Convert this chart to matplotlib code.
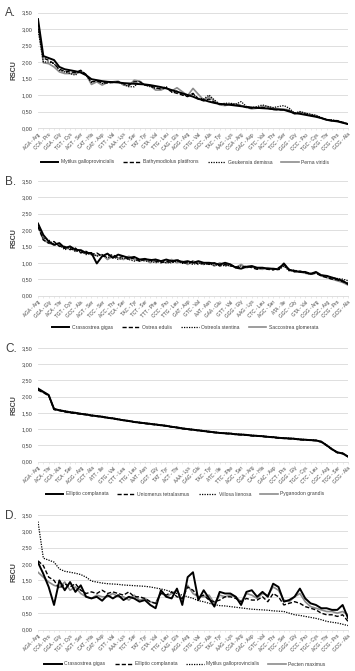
import numpy as np
import matplotlib
matplotlib.use("Agg")
import matplotlib.pyplot as plt

plt.rcParams["font.family"] = ["Liberation Sans", "DejaVu Sans"]

TXT = "#404040"
GRID = "#d9d9d9"
GREY = "#8c8c8c"

# visible (every other) codon labels of each panel, left to right
LABELS_A = ["AGA - Arg", "CCA - Pro", "GGA - Gly", "TGT - Cys", "AGT - Ser", "CAT - His",
            "GAT - Asp", "GTT - Val", "AAA - Lys", "TCT - Ser", "TAT - Tyr", "GTA - Val",
            "TTG - Leu", "CAG - Gln", "AGG - Arg", "GTG - Val", "GCC - Ala", "TAC - Tyr",
            "AAG - Lys", "CGA - Arg", "GAC - Asp", "GTC - Val", "ACC - Thr", "TCC - Ser",
            "GGG - Gly", "CCC - Pro", "TGC - Cys", "ACG - Thr", "CCG - Pro", "GCG - Ala"]
LABELS_B = ["AGA - Arg", "GGA - Gly", "ACA - Thr", "TGT - Cys", "GCC - Ala", "AGT - Ser",
            "TCC - Ser", "ACC - Thr", "TCA - Ser", "TAC - Tyr", "TCT - Ser", "TTT - Phe",
            "CCC - Pro", "TTG - Leu", "GAT - Asp", "GTC - Val", "AAT - Asn", "GAA - Glu",
            "GTT - Val", "GGG - Gly", "AAG - Lys", "CTC - Leu", "AGC - Ser", "ATA - Ile",
            "GGC - Gly", "GTA - Val", "CGG - Arg", "CGC - Arg", "CCG - Pro", "GCG - Ala"]
LABELS_C = ["AGA - Arg", "ACA - Thr", "GCA - Ala", "TCA - Ser", "AGG - Arg", "GCT - Ala",
            "ATT - Ile", "GTG - Val", "CTT - Leu", "TTG - Leu", "AAT - Asn", "GGT - Gly",
            "TAT - Tyr", "ACT - Thr", "AAA - Lys", "GAG - Glu", "TAC - Tyr", "ATC - Ile",
            "TTC - Phe", "AGC - Ser", "CGA - Arg", "CAC - His", "GAC - Asp", "CCT - Pro",
            "GGG - Gly", "TGC - Cys", "CTC - Leu", "CGC - Arg", "TCG - Ser", "GCG - Ala"]

# panel A
SP_A = ["Mytilus galloprovincialis", "Bathymodiolus platifrons", "Geukensia demissa", "Perna viridis"]
mytilus = [3.30, 2.18, 2.12, 2.06, 1.85, 1.78, 1.75, 1.72, 1.68, 1.60, 1.48, 1.45, 1.42, 1.40, 1.39,
           1.38, 1.36, 1.35, 1.34, 1.33, 1.32, 1.30, 1.27, 1.24, 1.20, 1.15, 1.10, 1.05, 1.00, 0.95,
           0.88, 0.85, 0.80, 0.76, 0.73, 0.72, 0.70, 0.68, 0.66, 0.64, 0.62, 0.61, 0.60, 0.59, 0.57,
           0.56, 0.55, 0.50, 0.45, 0.43, 0.40, 0.37, 0.34, 0.30, 0.25, 0.22, 0.20, 0.16, 0.12]
bathymodiolus = [3.20, 2.12, 2.05, 1.95, 1.78, 1.72, 1.70, 1.68, 1.75, 1.62, 1.40, 1.42, 1.38, 1.36,
                 1.38, 1.40, 1.35, 1.30, 1.40, 1.40, 1.30, 1.28, 1.22, 1.18, 1.22, 1.10, 1.05, 1.00,
                 0.95, 1.05, 0.88, 0.82, 0.88, 0.78, 0.72, 0.70, 0.72, 0.70, 0.68, 0.62, 0.60, 0.62,
                 0.62, 0.60, 0.56, 0.55, 0.55, 0.52, 0.44, 0.45, 0.42, 0.38, 0.35, 0.30, 0.26, 0.22,
                 0.22, 0.17, 0.12]
geukensia = [3.00, 2.00, 2.00, 1.95, 1.75, 1.70, 1.65, 1.60, 1.75, 1.60, 1.38, 1.45, 1.35, 1.38, 1.38,
             1.40, 1.32, 1.25, 1.25, 1.42, 1.30, 1.25, 1.20, 1.20, 1.25, 1.08, 1.12, 1.00, 0.98, 1.02,
             0.90, 0.88, 1.00, 0.85, 0.72, 0.75, 0.75, 0.72, 0.80, 0.65, 0.62, 0.65, 0.70, 0.65, 0.62,
             0.65, 0.68, 0.60, 0.45, 0.50, 0.45, 0.42, 0.38, 0.32, 0.25, 0.25, 0.22, 0.18, 0.12]
perna = [3.10, 1.98, 1.95, 1.85, 1.70, 1.65, 1.65, 1.65, 1.72, 1.62, 1.32, 1.40, 1.30, 1.38, 1.40,
         1.42, 1.30, 1.28, 1.45, 1.42, 1.30, 1.28, 1.15, 1.15, 1.22, 1.12, 1.22, 1.10, 0.98, 1.20,
         1.02, 0.85, 0.95, 0.82, 0.70, 0.68, 0.72, 0.73, 0.68, 0.62, 0.58, 0.60, 0.66, 0.65, 0.60,
         0.58, 0.57, 0.55, 0.42, 0.48, 0.45, 0.40, 0.38, 0.30, 0.24, 0.22, 0.22, 0.16, 0.12]

# panel B
SP_B = ["Crassostrea gigas", "Ostrea edulis", "Ostreola stentina", "Saccostrea glomerata"]
crassostrea_b = [2.20, 1.85, 1.65, 1.55, 1.60, 1.45, 1.50, 1.40, 1.38, 1.30, 1.30, 0.98, 1.20, 1.28,
                 1.15, 1.25, 1.20, 1.15, 1.18, 1.10, 1.12, 1.08, 1.10, 1.05, 1.10, 1.05, 1.08, 1.02,
                 1.05, 1.00, 1.05, 1.00, 1.00, 0.98, 0.95, 1.00, 0.95, 0.85, 0.82, 0.88, 0.90, 0.85,
                 0.85, 0.82, 0.82, 0.80, 0.98, 0.78, 0.75, 0.72, 0.72, 0.66, 0.72, 0.62, 0.60, 0.55,
                 0.50, 0.45, 0.35]
ostrea = [2.10, 1.70, 1.60, 1.65, 1.50, 1.50, 1.40, 1.45, 1.30, 1.35, 1.25, 1.30, 1.20, 1.20, 1.25,
          1.15, 1.20, 1.10, 1.15, 1.05, 1.10, 1.10, 1.05, 1.00, 1.05, 1.00, 1.10, 1.00, 1.00, 1.05,
          0.95, 1.00, 0.95, 1.00, 0.90, 0.95, 0.90, 0.88, 0.85, 0.90, 0.85, 0.80, 0.85, 0.80, 0.78,
          0.85, 0.95, 0.80, 0.72, 0.75, 0.70, 0.65, 0.68, 0.60, 0.55, 0.50, 0.48, 0.42, 0.38]
ostreola = [2.15, 1.75, 1.70, 1.55, 1.55, 1.40, 1.45, 1.35, 1.35, 1.25, 1.30, 1.20, 1.25, 1.15, 1.20,
            1.10, 1.15, 1.10, 1.05, 1.10, 1.05, 1.05, 1.00, 1.05, 1.00, 1.00, 1.05, 0.98, 1.00, 0.95,
            1.00, 0.95, 0.98, 0.92, 0.95, 0.90, 0.92, 0.88, 0.90, 0.85, 0.88, 0.82, 0.85, 0.80, 0.82,
            0.78, 0.90, 0.75, 0.78, 0.72, 0.70, 0.68, 0.70, 0.62, 0.60, 0.55, 0.52, 0.50, 0.45]
saccostrea = [2.15, 1.70, 1.60, 1.55, 1.60, 1.45, 1.50, 1.35, 1.40, 1.30, 1.25, 1.22, 1.25, 1.10,
              1.20, 1.15, 1.10, 1.20, 1.10, 1.05, 1.10, 1.00, 1.10, 1.05, 1.00, 1.10, 1.00, 1.05,
              0.95, 1.05, 1.00, 0.95, 1.00, 0.90, 1.00, 0.92, 0.95, 0.85, 0.95, 0.85, 0.90, 0.82,
              0.80, 0.85, 0.80, 0.82, 0.92, 0.78, 0.75, 0.72, 0.68, 0.65, 0.70, 0.60, 0.55, 0.50,
              0.45, 0.40, 0.32]

# panel C
SP_C = ["Elliptio complanata", "Uniomerus tetralasmus", "Villosa lienosa", "Pyganodon grandis"]
elliptio_c = [2.25, 2.15, 2.05, 1.62, 1.58, 1.55, 1.52, 1.50, 1.47, 1.45, 1.42, 1.40, 1.38, 1.35, 1.33,
              1.30, 1.27, 1.25, 1.22, 1.20, 1.18, 1.16, 1.14, 1.12, 1.10, 1.07, 1.05, 1.02, 1.00, 0.98,
              0.96, 0.94, 0.92, 0.90, 0.88, 0.87, 0.86, 0.84, 0.83, 0.82, 0.80, 0.79, 0.78, 0.76, 0.75,
              0.73, 0.72, 0.71, 0.70, 0.68, 0.67, 0.66, 0.65, 0.61, 0.50, 0.38, 0.28, 0.25, 0.15]
uniomerus = [2.20, 2.12, 2.03, 1.60, 1.57, 1.53, 1.50, 1.48, 1.46, 1.44, 1.41, 1.39, 1.37, 1.34, 1.32,
             1.29, 1.27, 1.24, 1.21, 1.19, 1.17, 1.15, 1.13, 1.11, 1.09, 1.06, 1.04, 1.01, 0.99, 0.97,
             0.95, 0.93, 0.91, 0.89, 0.88, 0.86, 0.85, 0.83, 0.82, 0.81, 0.79, 0.78, 0.77, 0.75, 0.74,
             0.72, 0.71, 0.70, 0.69, 0.67, 0.66, 0.65, 0.64, 0.60, 0.49, 0.37, 0.27, 0.24, 0.15]
villosa = [2.22, 2.14, 2.04, 1.63, 1.59, 1.56, 1.53, 1.51, 1.48, 1.46, 1.43, 1.41, 1.39, 1.36, 1.34,
           1.31, 1.28, 1.26, 1.23, 1.21, 1.19, 1.17, 1.15, 1.13, 1.11, 1.08, 1.06, 1.03, 1.01, 0.99,
           0.97, 0.95, 0.93, 0.91, 0.89, 0.88, 0.87, 0.85, 0.84, 0.83, 0.81, 0.80, 0.79, 0.77, 0.76,
           0.74, 0.73, 0.72, 0.71, 0.69, 0.68, 0.67, 0.66, 0.62, 0.51, 0.39, 0.29, 0.26, 0.16]
pyganodon = [2.24, 2.14, 2.05, 1.61, 1.58, 1.54, 1.51, 1.49, 1.47, 1.45, 1.42, 1.40, 1.37, 1.35, 1.33,
             1.30, 1.27, 1.25, 1.22, 1.20, 1.18, 1.16, 1.14, 1.12, 1.10, 1.07, 1.05, 1.02, 1.00, 0.98,
             0.96, 0.94, 0.92, 0.90, 0.88, 0.87, 0.86, 0.84, 0.83, 0.82, 0.80, 0.79, 0.78, 0.76, 0.75,
             0.73, 0.72, 0.71, 0.70, 0.68, 0.67, 0.66, 0.65, 0.61, 0.50, 0.38, 0.28, 0.25, 0.15]

# panel D (codon order as in A)
SP_D = ["Crassostrea gigas", "Elliptio complanata", "Mytilus galloprovincialis", "Pecten maximus"]
crassostrea_d = [2.05, 1.70, 1.30, 0.75, 1.50, 1.20, 1.45, 1.15, 1.35, 1.00, 0.95, 1.00, 0.88, 1.05,
                 0.95, 1.05, 0.90, 1.00, 0.95, 0.85, 0.90, 0.75, 0.65, 1.20, 1.00, 0.95, 1.25, 0.75,
                 1.60, 1.75, 0.90, 1.20, 0.95, 0.70, 1.15, 1.10, 1.10, 1.00, 0.75, 1.15, 1.20, 1.00,
                 1.15, 1.00, 1.40, 1.30, 0.85, 0.90, 1.00, 1.25, 0.95, 0.80, 0.75, 0.65, 0.65, 0.60,
                 0.60, 0.75, 0.35]
elliptio_d = [2.10, 1.95, 1.60, 1.50, 1.25, 1.40, 1.30, 1.40, 1.20, 1.10, 1.15, 1.10, 1.20, 1.10, 1.15,
              1.10, 1.05, 1.15, 1.00, 1.00, 0.95, 0.85, 0.80, 1.10, 1.05, 1.15, 1.00, 0.95, 1.30, 1.20,
              1.00, 1.05, 0.90, 0.85, 0.90, 1.00, 1.00, 0.95, 0.85, 0.95, 0.90, 0.90, 1.00, 0.85, 1.10,
              1.00, 0.75, 0.80, 0.85, 0.80, 0.70, 0.65, 0.60, 0.50, 0.45, 0.45, 0.40, 0.45, 0.25]
pecten = [1.75, 1.60, 1.45, 1.35, 1.30, 1.45, 1.20, 1.30, 1.10, 1.00, 0.95, 1.05, 1.00, 1.00, 1.10,
          1.00, 1.00, 0.90, 1.05, 0.90, 0.95, 0.85, 0.80, 1.15, 1.00, 1.10, 1.20, 0.90, 1.35, 1.10,
          1.00, 1.00, 1.05, 0.80, 1.05, 1.00, 1.05, 1.00, 0.85, 1.10, 1.05, 0.95, 1.10, 1.05, 1.30,
          1.20, 0.90, 0.85, 1.00, 1.10, 0.85, 0.70, 0.65, 0.60, 0.55, 0.55, 0.50, 0.55, 0.45]

STYLES = [dict(color="black", lw=1.4, ls="-", zorder=5),
          dict(color="black", lw=1.0, ls=(0, (3, 1.5)), zorder=4),
          dict(color="black", lw=0.9, ls=(0, (1, 1)), zorder=3),
          dict(color=GREY, lw=1.2, ls="-", zorder=2)]

AA3 = dict(F="Phe", L="Leu", S="Ser", Y="Tyr", C="Cys", W="Trp", P="Pro", H="His", Q="Gln",
           R="Arg", I="Ile", M="Met", T="Thr", N="Asn", K="Lys", V="Val", A="Ala", D="Asp",
           E="Glu", G="Gly", X="Ter")
CODE = "FFLLSSSSYYXXCCXWLLLLPPPPHHQQRRRRIIIMTTTTNNKKSSRRVVVVAAAADDEEGGGG"


def codon_order(visible):
    """59 codons: the labelled ones at even slots, the rest (unlabelled) in between."""
    pool = []
    i = 0
    for a in "TCAG":
        for b in "TCAG":
            for c in "TCAG":
                aa = CODE[i]
                i += 1
                if aa in "XMW":
                    continue
                name = f"{a}{b}{c} - {AA3[aa]}"
                if name[:3] not in [v[:3] for v in visible]:
                    pool.append(name)
    out = []
    for k, v in enumerate(visible):
        out.append(v)
        if k < len(pool):
            out.append(pool[k])
    return out[:59]


PANELS = [
    ("A.", LABELS_A, SP_A, [mytilus, bathymodiolus, geukensia, perna], 12.5, 128, 162),
    ("B.", LABELS_B, SP_B, [crassostrea_b, ostrea, ostreola, saccostrea], 181, 295.5, 327),
    ("C.", LABELS_C, SP_C, [elliptio_c, uniomerus, villosa, pyganodon], 348, 461.5, 494),
    ("D.", LABELS_A, SP_D, [crassostrea_d, elliptio_d, mytilus, pecten], 515, 629.5, 664),
]

W, H = 355, 671
fig = plt.figure(figsize=(W / 100, H / 100), dpi=100)

for letter, vis, species, series, top, bot, leg_y in PANELS:
    codons = codon_order(vis)
    x = np.arange(len(codons))
    ax = fig.add_axes([38 / W, 1 - bot / H, 310 / W, (bot - top) / H])
    handles = []
    for name, vals, st in zip(species, series, STYLES):
        h, = ax.plot(x, vals, label=name, solid_joinstyle="round", **st)
        handles.append(h)
    ax.set_xlim(0, len(codons) - 1)
    ax.set_ylim(0, 3.5)
    ax.set_yticks(np.arange(0, 3.51, 0.5))
    ax.set_yticklabels([f"{v:.2f}".replace(".", ",") for v in np.arange(0, 3.51, 0.5)],
                       fontsize=4.0, color=TXT)
    ax.set_xticks(x)
    ax.set_xticklabels([c if i % 2 == 0 else "" for i, c in enumerate(codons)],
                       rotation=45, ha="right", rotation_mode="anchor", fontsize=3.4, color=TXT)
    ax.tick_params(axis="y", length=0, pad=4)
    ax.tick_params(axis="x", length=1.5, width=0.4, color=GRID, pad=1.5)
    ax.grid(axis="y", color=GRID, lw=0.6)
    ax.set_axisbelow(True)
    for s in ("top", "right", "left"):
        ax.spines[s].set_visible(False)
    ax.spines["bottom"].set_color(GRID)
    ax.spines["bottom"].set_linewidth(0.6)
    ax.set_ylabel("RSCU", fontsize=5.0, color=TXT, fontweight="bold", labelpad=3)
    fig.text(5 / W, 1 - (top + 1) / H, letter, fontsize=8.5, color=TXT, va="center", ha="left")
    fig.legend(handles=handles, loc="center", bbox_to_anchor=(185 / W, 1 - leg_y / H),
               ncol=4, frameon=False, fontsize=3.6, handlelength=3.5, handletextpad=0.5,
               columnspacing=1.8, labelcolor=TXT)

fig.savefig("out.png", dpi=100)
